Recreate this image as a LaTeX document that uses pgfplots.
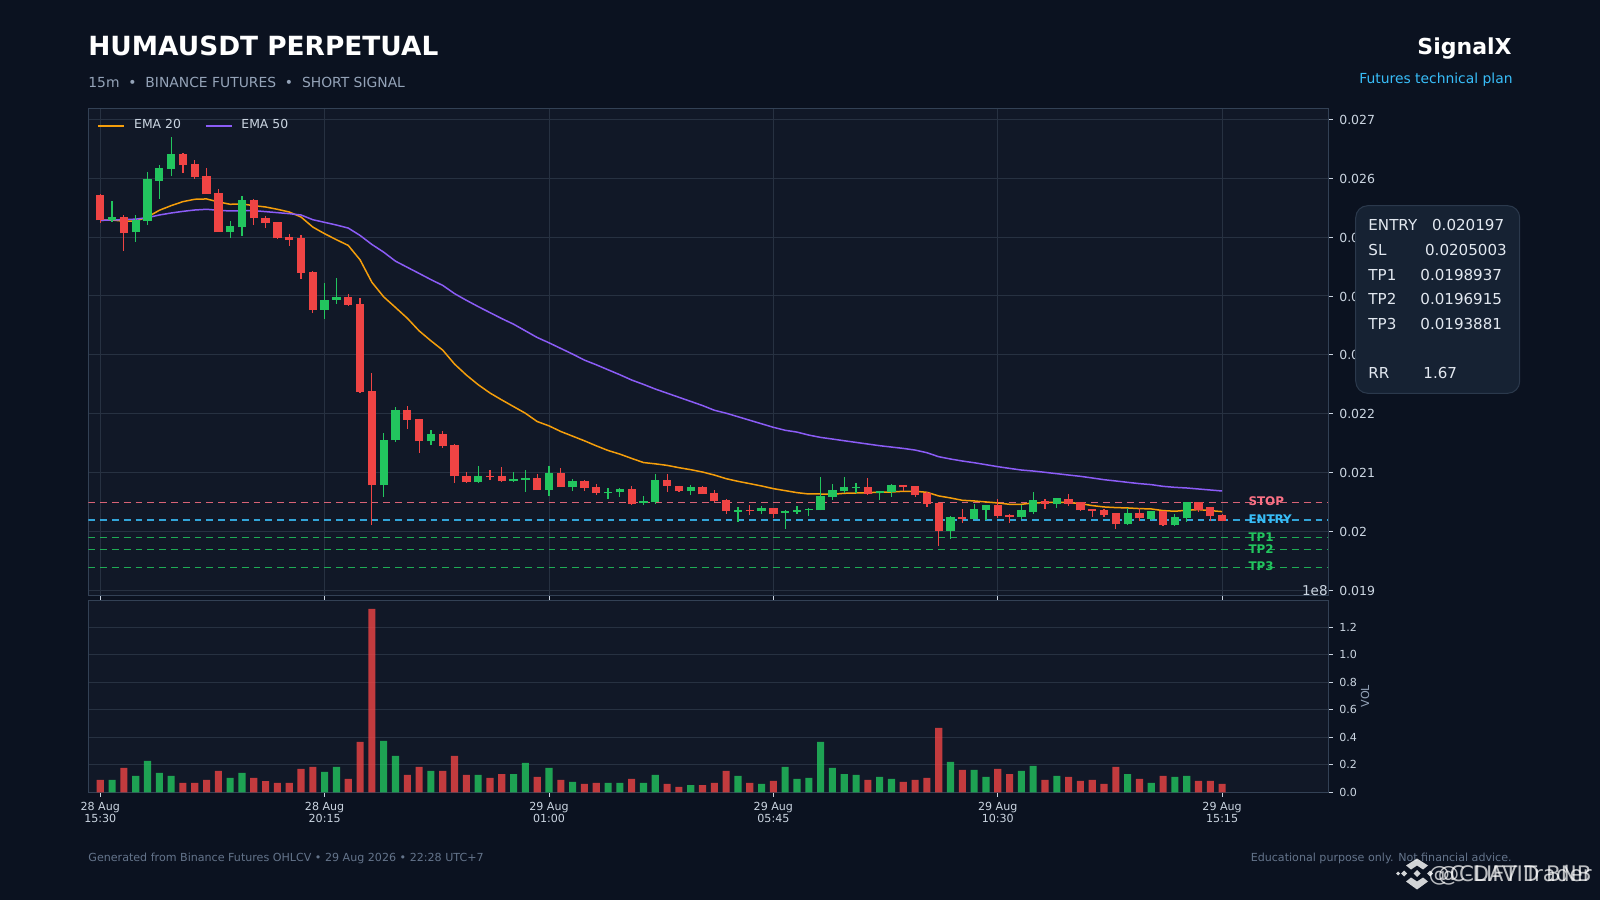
\documentclass[border=0pt]{standalone}
\usepackage{pgfplots}
\usepackage{pgfplotstable}
\usepackage{fontspec}
\pgfplotsset{compat=1.18}
\setmainfont{DejaVu Sans}
\definecolor{bg}{HTML}{0B1220}
\definecolor{panel}{HTML}{111827}
\definecolor{gridc}{HTML}{273141}
\definecolor{spine}{HTML}{334155}
\definecolor{tickc}{HTML}{CBD5E1}
\definecolor{upc}{HTML}{22C55E}
\definecolor{dnc}{HTML}{EF4444}
\definecolor{ema20}{HTML}{F59E0B}
\definecolor{ema50}{HTML}{8B5CF6}
\definecolor{stopc}{HTML}{FB7185}
\definecolor{entryc}{HTML}{38BDF8}
\definecolor{boxf}{HTML}{162233}
\definecolor{boxe}{HTML}{2B394C}
\definecolor{muted}{HTML}{94A3B8}
\definecolor{foot}{HTML}{64748B}
\definecolor{boxt}{HTML}{E2E8F0}
\newcommand\px[1]{\fontsize{#1}{#1}\selectfont}

\pgfplotstableread{
i o h l c
1 .025295 .025614 .025256 .025341
3 .02508 .025375 .02492 .025284
4 .025267 .026108 .025205 .025983
5 .025949 .026227 .025648 .026165
6 .026153 .026705 .02604 .026409
11 .02508 .025278 .024983 .025182
12 .025165 .025699 .025017 .025625
19 .023767 .024222 .023602 .023937
20 .023937 .024307 .023858 .023989
24 .020785 .021676 .020588 .021563
25 .021547 .022111 .021518 .022071
28 .02153 .021727 .021468 .021665
32 .020836 .021118 .020825 .020937
35 .020853 .021016 .02084 .020887
36 .020875 .02105 .020672 .020904
38 .0207 .021112 .020605 .020988
40 .020751 .020898 .020689 .020853
43 .02065 .020746 .020554 .02068
44 .020667 .020746 .020588 .020717
46 .020486 .02061 .020458 .020514
47 .020497 .020983 .020475 .020881
50 .020684 .020797 .020621 .020751
54 .02034 .020424 .020164 .020362
56 .02035 .020441 .020305 .020395
58 .020316 .020362 .020045 .020345
59 .020333 .020441 .020305 .020362
60 .020362 .020395 .020266 .020379
61 .020362 .020932 .020362 .020599
62 .020582 .020814 .020542 .020701
63 .020684 .020921 .020661 .020751
64 .02074 .020831 .020661 .020757
66 .020661 .020684 .020542 .020684
67 .020667 .020814 .020582 .020785
72 .020006 .020266 .019876 .020243
74 .020209 .020475 .020209 .020379
75 .020362 .020446 .020192 .020446
78 .020243 .020446 .020215 .020362
79 .020339 .020678 .020305 .020531
81 .020475 .020565 .020407 .020565
87 .020124 .020395 .020113 .020311
89 .02022 .020345 .020203 .020345
91 .020107 .020305 .020096 .020243
92 .020226 .020497 .02017 .020497
}\uptable

\pgfplotstableread{
i o h l c
0 .02571 .025739 .025239 .025284
2 .025335 .025375 .024761 .025062
7 .026409 .02642 .026091 .026222
8 .026239 .026301 .025983 .026017
9 .026034 .026165 .025727 .025727
10 .025744 .025824 .02508 .02508
13 .025625 .025642 .025205 .025318
14 .025318 .025358 .025153 .025233
15 .02525 .02525 .02496 .024977
16 .024994 .025051 .024847 .024943
17 .024977 .025034 .024284 .024398
18 .024415 .024432 .023705 .023767
21 .023989 .024028 .02383 .023852
22 .023865 .02396 .022353 .022376
23 .022393 .022686 .02012 .020785
26 .022071 .022127 .021738 .021902
27 .021919 .021919 .021338 .02153
29 .021665 .02171 .021422 .021445
30 .021462 .02149 .02083 .020937
31 .020937 .021011 .020825 .020836
33 .020943 .02105 .020875 .02092
34 .020937 .0211 .020836 .020853
37 .020904 .020983 .0207 .0207
39 .020988 .021084 .020751 .020751
41 .020853 .02087 .020689 .020734
42 .020751 .020808 .020622 .02065
45 .020717 .02078 .020452 .020464
48 .020881 .020983 .02067 .020774
49 .02078 .02078 .020667 .020684
51 .020751 .020768 .020633 .020633
52 .02065 .020706 .020508 .020514
53 .020531 .020559 .020305 .020345
55 .020362 .020458 .020282 .020345
57 .020395 .020395 .020226 .020294
65 .020751 .020915 .020627 .020644
68 .020785 .020785 .020689 .020751
69 .020768 .02078 .020588 .020616
70 .02065 .020667 .020424 .020463
71 .020486 .020503 .019757 .020006
73 .020243 .020384 .020147 .020215
76 .020446 .020559 .020232 .020266
77 .020277 .020294 .020147 .020249
80 .02052 .020559 .020384 .020475
82 .020548 .020644 .020441 .020475
83 .020503 .020503 .02035 .020362
84 .020379 .02039 .020249 .020345
85 .020362 .020384 .020249 .020277
86 .020311 .020311 .020045 .020124
88 .020311 .020407 .020181 .020226
90 .020345 .020345 .02009 .020107
93 .020497 .020497 .020328 .020362
94 .020412 .020412 .020181 .02026
95 .020277 .020305 .020175 .020175
}\dntable

\pgfplotstableread{
i e20 e50
0 .025284 .025284
1 .02529 .025292
2 .02527 .025296
3 .025272 .025305
4 .025341 .02533
5 .025455 .025375
6 .025534 .025409
7 .025602 .025437
8 .025642 .02546
9 .025648 .025472
10 .025597 .025455
11 .025557 .025443
12 .025562 .025449
13 .025534 .025449
14 .025511 .025432
15 .025472 .025415
16 .025426 .025398
17 .025341 .025375
18 .02517 .025295
19 .025057 .02525
20 .024955 .025205
21 .024858 .025153
22 .024614 .025028
23 .024233 .024875
24 .023985 .024744
25 .023805 .024591
26 .023622 .024487
27 .023408 .024383
28 .023239 .024278
29 .023081 .02418
30 .022844 .02404
31 .022658 .023927
32 .022494 .02382
33 .022353 .023718
34 .022235 .023616
35 .022122 .023521
36 .022009 .023408
37 .021868 .023295
38 .021795 .023205
39 .021699 .023109
40 .02162 .023013
41 .021541 .022911
42 .021456 .022832
43 .021377 .022747
44 .021315 .022663
45 .021242 .022573
46 .021172 .022499
47 .02115 .02242
48 .021124 .02235
49 .021085 .02228
50 .021051 .02221
51 .021011 .02214
52 .02096 .02206
53 .020898 .02201
54 .020853 .02195
55 .020814 .02189
56 .020774 .02183
57 .020729 .02177
58 .020695 .02172
59 .020661 .021689
60 .020638 .021638
61 .020638 .021599
62 .020633 .021571
63 .02065 .021542
64 .020655 .021514
65 .020661 .021486
66 .020667 .021458
67 .020672 .021435
68 .020684 .021412
69 .020684 .021384
70 .020667 .021339
71 .020605 .021271
72 .020571 .021232
73 .020531 .021198
74 .02052 .021169
75 .020503 .021136
76 .020486 .021102
77 .020463 .021073
78 .020463 .021045
79 .020486 .021028
80 .020492 .021006
81 .020497 .020983
82 .020492 .02096
83 .020475 .020938
84 .020441 .02091
85 .020418 .020881
86 .020407 .020859
87 .020401 .020836
88 .02039 .020814
89 .020384 .020797
90 .020356 .020768
91 .020345 .020751
92 .020362 .02074
93 .020373 .020723
94 .020356 .020706
95 .020339 .020689
}\emas

\pgfplotstableread{
i v
1 .09
3 .119
4 .228
5 .141
6 .119
11 .104
12 .141
19 .148
20 .184
24 .373
25 .264
28 .155
32 .126
35 .133
36 .214
38 .177
40 .075
43 .068
44 .068
46 .068
47 .126
50 .053
54 .119
56 .061
58 .184
59 .097
60 .104
61 .367
62 .177
63 .133
64 .126
66 .112
67 .097
72 .221
74 .163
75 .112
78 .155
79 .192
81 .119
87 .133
89 .068
91 .112
92 .119
}\upvol

\pgfplotstableread{
i v
0 .09
2 .177
7 .068
8 .068
9 .09
10 .155
13 .104
14 .082
15 .068
16 .068
17 .17
18 .184
21 .097
22 .366
23 1.333
26 .126
27 .184
29 .155
30 .264
31 .126
33 .104
34 .133
37 .112
39 .09
41 .061
42 .068
45 .097
48 .061
49 .039
51 .053
52 .068
53 .155
55 .068
57 .083
65 .09
68 .075
69 .09
70 .104
71 .468
73 .163
76 .17
77 .133
80 .09
82 .112
83 .083
84 .09
85 .061
86 .184
88 .097
90 .119
93 .083
94 .083
95 .061
}\dnvol

\tikzset{lvl/.style={font=\bfseries\px{5.95},text=#1,anchor=west,inner sep=0pt,yshift=.5pt}}
\pgfplotsset{
  panelaxis/.style={
    scale only axis, width=620.05pt,
    anchor=south west,
    xmin=-1.014, xmax=104,
    xtick={0,19,38,57,76,95},
    axis background/.style={fill=panel},
    axis line style={draw=spine,line width=.5pt},
    tick align=outside, major tick length=2.25pt,
    every tick/.style={draw=tickc,line width=.4pt},
    xtick pos=bottom, ytick pos=right, yticklabel pos=right,
    /pgf/number format/assume math mode=true,
    major grid style={draw=gridc,line width=.5pt},
    scaled y ticks=false,
  },
  candleW/.style={forget plot, draw=none, mark=none,
    error bars/.cd, y dir=both, y explicit, error mark=none,
    error bar style={solid,line width=.6pt,draw=#1}},
  candleB/.style={forget plot, draw=none, mark=none,
    error bars/.cd, y dir=plus, y explicit, error mark=none,
    error bar style={solid,line width=4.15pt,draw=#1}},
  lvlline/.style={forget plot, #1, line width=.55pt, dash pattern=on 3.4pt off 2.5pt, opacity=.85},
}

\begin{document}
\begin{tikzpicture}
\path[use as bounding box,fill=bg] (0,0) rectangle (800pt,450pt);

\begin{axis}[panelaxis, at={(44.15pt,152.35pt)}, height=243.5pt,
  ymin=0.018918, ymax=0.027187,
  ytick={0.019,0.020,0.021,0.022,0.023,0.024,0.025,0.026,0.027},
  yticklabels={0.019,0.02,0.021,0.022,0.023,0.024,0.025,0.026,0.027},
  xticklabels={},
  xmajorgrids, ymajorgrids,
  yticklabel style={font=\px{6.25},text=tickc,anchor=west,inner sep=0pt,xshift=3pt,yshift=-.25pt},
  legend style={at={(0pt,243.5pt)},anchor=north west,draw=none,fill=none,
    font=\px{6.2},text=tickc,legend columns=2,inner xsep=4.5pt,inner ysep=3.5pt,
    /tikz/every odd column/.append style={column sep=2.5pt},
    /tikz/every even column/.append style={column sep=10pt}},
  legend image code/.code={\draw[#1] (0pt,0pt)--(13pt,0pt);},
]
\addplot[lvlline=stopc] coordinates {(-1.014,.0205003)(104,.0205003)};
\addplot[lvlline=entryc] coordinates {(-1.014,.020197)(104,.020197)};
\addplot[lvlline=upc] coordinates {(-1.014,.0198937)(104,.0198937)};
\addplot[lvlline=upc] coordinates {(-1.014,.0196915)(104,.0196915)};
\addplot[lvlline=upc] coordinates {(-1.014,.0193881)(104,.0193881)};
\addplot[ema20,line width=.75pt] table[x=i,y=e20]{\emas};
\addlegendentry{EMA 20}
\addplot[ema50,line width=.75pt] table[x=i,y=e50]{\emas};
\addlegendentry{EMA 50}
\addplot[candleW=upc] table[x=i,y=o,y error plus expr=\thisrow{h}-\thisrow{o},y error minus expr=\thisrow{o}-\thisrow{l}]{\uptable};
\addplot[candleW=dnc] table[x=i,y=o,y error plus expr=\thisrow{h}-\thisrow{o},y error minus expr=\thisrow{o}-\thisrow{l}]{\dntable};
\addplot[candleB=upc] table[x=i,y=o,y error plus expr=\thisrow{c}-\thisrow{o}]{\uptable};
\addplot[candleB=dnc] table[x=i,y=c,y error plus expr=\thisrow{o}-\thisrow{c}]{\dntable};
\node[lvl=stopc] at (axis cs:97.2,0.0205003) {STOP};
\node[lvl=entryc] at (axis cs:97.2,0.020197) {ENTRY};
\node[lvl=upc] at (axis cs:97.2,0.0198937) {TP1};
\node[lvl=upc] at (axis cs:97.2,0.0196915) {TP2};
\node[lvl=upc] at (axis cs:97.2,0.0193881) {TP3};
\end{axis}

\begin{axis}[panelaxis, at={(44.15pt,53.85pt)}, height=96pt,
  ymin=0, ymax=1.396,
  ytick={0,0.2,0.4,0.6,0.8,1.0,1.2},
  yticklabels={0.0,0.2,0.4,0.6,0.8,1.0,1.2},
  xticklabels={{28 Aug\\15:30},{28 Aug\\20:15},{29 Aug\\01:00},{29 Aug\\05:45},{29 Aug\\10:30},{29 Aug\\15:15}},
  ymajorgrids,
  yticklabel style={font=\px{5.55},text=tickc,anchor=west,inner sep=0pt,xshift=3pt},
  xticklabel style={font=\fontsize{5.55}{6.2}\selectfont,text=tickc,align=center,inner sep=0pt,yshift=-2.5pt},
]
\addplot[ybar,bar width=3.55pt,bar shift=0pt,fill=upc,draw=none,fill opacity=.8,forget plot] table[x=i,y=v]{\upvol};
\addplot[ybar,bar width=3.55pt,bar shift=0pt,fill=dnc,draw=none,fill opacity=.8,forget plot] table[x=i,y=v]{\dnvol};
\end{axis}

\begin{scope}[x=.5pt,y=-.5pt,shift={(0pt,450pt)}]
 % offset text and volume label
 \node[anchor=base east,inner sep=0pt,font=\px{6.75},text=tickc] at (1328,596) {1e8};
 \node[rotate=90,inner sep=0pt,font=\px{5.55},text=muted] at (1365,696) {VOL};
 % titles
 \node[anchor=base west,inner sep=0pt,font=\bfseries\px{13.2},text=white] at (88,55.5) {HUMAUSDT PERPETUAL};
 \node[anchor=base west,inner sep=0pt,font=\px{6.94},text=muted] at (88,87.5) {15m\ \ •\ \ BINANCE FUTURES\ \ •\ \ SHORT SIGNAL};
 \node[anchor=base east,inner sep=0pt,font=\bfseries\px{11},text=white] at (1512,55) {SignalX};
 \node[anchor=base east,inner sep=0pt,font=\px{6.94},text=entryc] at (1513,83.3) {Futures technical plan};
 \node[anchor=base west,inner sep=0pt,font=\px{5.55},text=foot] at (88,861) {Generated from Binance Futures OHLCV • 29 Aug 2026 • 22:28 UTC+7};
 \node[anchor=base east,inner sep=0pt,font=\px{5.55},text=foot] at (1512,861) {Educational purpose only. Not financial advice.};
 % info box
 \draw[fill=boxf,draw=boxe,line width=.5pt,rounded corners=6pt] (1355.7,205.7) rectangle (1519.7,393.3);
 \foreach \yy/\aa/\xx/\bb in {230.6/ENTRY/1431.7/0.020197,255.6/SL/1424.7/0.0205003,280.3/TP1/1420/0.0198937,305/TP2/1420/0.0196915,329.6/TP3/1420/0.0193881,379/RR/1423/1.67}{
   \node[anchor=base west,inner sep=0pt,font=\px{7.55},text=boxt] at (1368,\yy) {\aa};
   \node[anchor=base west,inner sep=0pt,font=\px{7.55},text=boxt] at (\xx,\yy) {\bb};
 }
 % watermark: two overlaid handles and a logo
 \node[anchor=base east,inner sep=0pt,font=\px{10.7},text=white,opacity=.72] at (1592,881) {@C-DAVID BNB};
 \node[anchor=base east,inner sep=0pt,font=\px{10.7},text=white,opacity=.72] at (1592,881) {@CLIFT Trader};
 \begin{scope}[fill=white,opacity=.82,shift={(-1,-1.5)}]
  \fill (1418,875) ++(-3.5,0) -- ++(3.5,-3.5) -- ++(3.5,3.5) -- ++(-3.5,3.5) -- cycle;
  \fill (1405,875) ++(-3,0) -- ++(3,-3) -- ++(3,3) -- ++(-3,3) -- cycle;
  \fill (1431,875) ++(-3,0) -- ++(3,-3) -- ++(3,3) -- ++(-3,3) -- cycle;
  \fill (1399,875) ++(-2,0) -- ++(2,-2) -- ++(2,2) -- ++(-2,2) -- cycle;
  \fill (1407,867) -- (1418,860) -- (1429,867) -- (1424,871) -- (1418,867) -- (1412,871) -- cycle;
  \fill (1407,883) -- (1418,891) -- (1429,883) -- (1424,879) -- (1418,883) -- (1412,879) -- cycle;
 \end{scope}
\end{scope}
\end{tikzpicture}
\end{document}
